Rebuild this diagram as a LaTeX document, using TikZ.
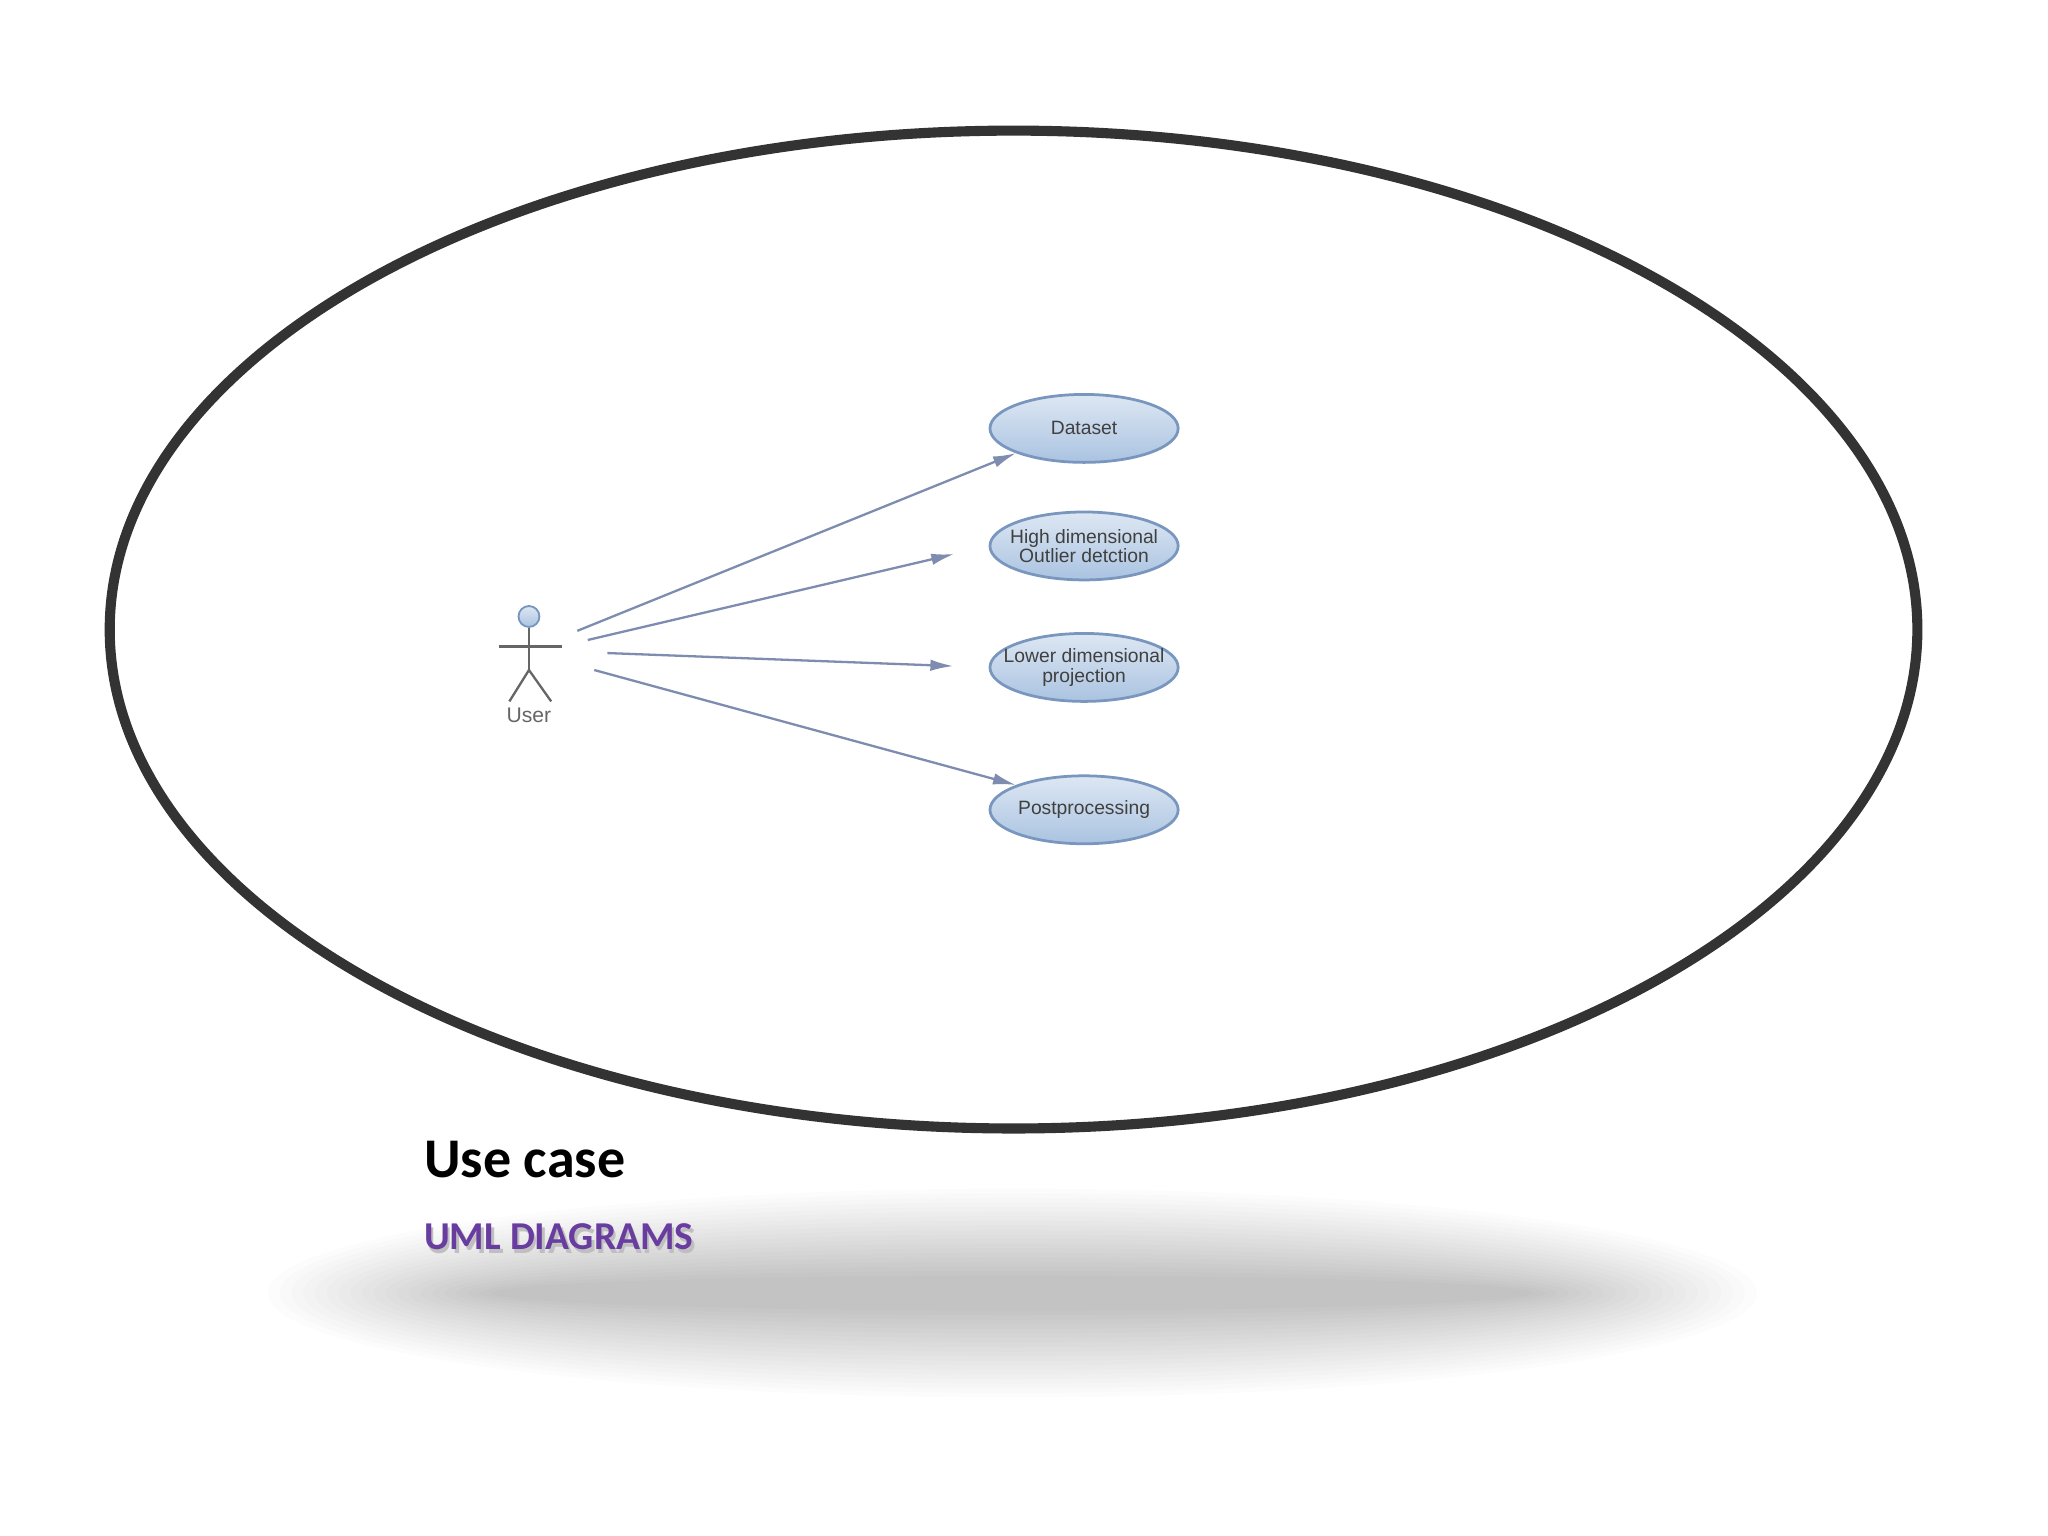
\documentclass[tikz,border=0pt]{standalone}
\usepackage{fontspec}
\setmainfont{Carlito}
\newfontfamily\ucfont{Liberation Sans}
\usetikzlibrary{shapes.geometric,arrows.meta,shadings}
\definecolor{ucborder}{RGB}{120,150,190}
\definecolor{ucfill}{RGB}{170,195,225}
\definecolor{ucline}{RGB}{125,140,175}
\definecolor{umlpurple}{RGB}{105,60,160}
\tikzset{
  usecase/.style={ellipse,draw=ucborder,line width=0.6pt,top color=ucfill!40,bottom color=ucfill,
    minimum width=1.44cm,minimum height=0.52cm,inner xsep=-5pt,inner ysep=0pt,align=center,
    font=\ucfont\fontsize{4.2}{4.2}\selectfont,text=black!75},
  assoc/.style={draw=ucline,line width=0.5pt,-{Latex[length=5pt,width=2.5pt]}},
  stick/.style={draw=black!60,line width=0.5pt}
}
\begin{document}
\begin{tikzpicture}[x=0.01cm,y=-0.01cm]
\useasboundingbox (0,0) rectangle (1568,1176);
\fill[white] (0,0) rectangle (1568,1176);
% shadow
\foreach \i in {0,...,19}{
  \fill[black,opacity=0.013] (775,990) ellipse ({570-\i*9} and {80-\i*3.5});
}
% big ellipse
\draw[black!80,line width=2.2pt,fill=white] (776,482) ellipse (692 and 382);
% use cases
\node[usecase] (uc1) at (830,328) {Dataset};
\node[usecase] (uc2) at (830,418) {High dimensional\\Outlier detction};
\node[usecase] (uc3) at (830,511) {Lower dimensional\\projection};
\node[usecase] (uc4) at (830,620) {Postprocessing};
% actor
\node[circle,draw=ucborder,top color=ucfill!40,bottom color=ucfill,minimum size=0.16cm,inner sep=0pt] (head) at (405,472) {};
\coordinate (hip) at (405,513);
\draw[stick] (head.south) -- (hip);
\draw[stick] (382,495) -- (430,495);
\draw[stick] (hip) -- (390,537);
\draw[stick] (hip) -- (422,537);
\node[font=\ucfont\fontsize{4.6}{5}\selectfont,text=black!60] (user) at (405,548) {User};
% associations
\coordinate (s1) at (442,483);
\coordinate (s2) at (450,490);
\coordinate (s3) at (465,500);
\coordinate (s4) at (455,513);
\draw[assoc] (s1) -- (uc1.200);
\draw[assoc,shorten >=0.27cm] (s2) -- (uc2.west);
\draw[assoc,shorten >=0.27cm] (s3) -- (uc3.west);
\draw[assoc] (s4) -- (uc4.160);
% titles
\node[anchor=west,inner sep=0pt,font=\bfseries\fontsize{12.2}{14}\selectfont,text=black] (title) at (324,888) {Use case};
\node[anchor=west,inner sep=0pt,font=\bfseries\fontsize{8.6}{10}\selectfont,text=black!25] at (326,950) {UML DIAGRAMS};
\node[anchor=west,inner sep=0pt,font=\bfseries\fontsize{8.6}{10}\selectfont,text=umlpurple] (sub) at (324,947) {UML DIAGRAMS};
\end{tikzpicture}
\end{document}
